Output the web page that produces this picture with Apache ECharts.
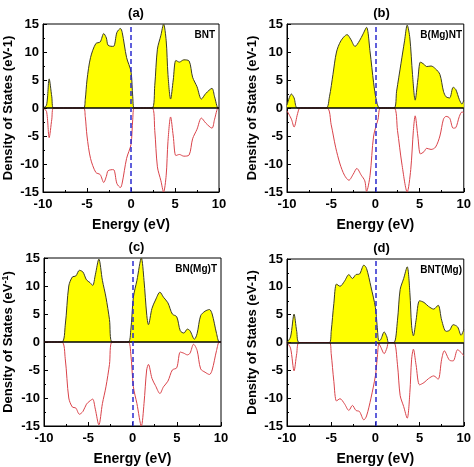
<!DOCTYPE html>
<html><head><meta charset="utf-8">
<script src="https://cdn.jsdelivr.net/npm/echarts@6/dist/echarts.min.js"></script>
<style>html,body{margin:0;padding:0;background:#fff}#c{width:474px;height:467px}</style>
</head><body><div id="c"></div>
<script>
const panelTitles = ['(a)','(b)','(c)','(d)'];
const panelLabels = ['BNT','B(Mg)NT','BN(Mg)T','BNT(Mg)'];
const xTicks = [-10,-5,0,5,10];
const yTicks = [-15,-10,-5,0,5,10,15];

const upA = [[-10,0],[-9.6,0.5],[-9.3,5.2],[-9.0,2],[-8.8,0],[-5.4,0],[-5.2,1.5],[-5,5],[-4.6,9],[-4,11.5],[-3.5,11.8],[-3.1,13.3],[-2.8,12.5],[-2.6,11.2],[-2,11],[-1.6,13.5],[-1.2,14.2],[-1,13.5],[-0.5,9],[0,6.5],[0.2,2],[0.4,0],[2.4,0],[2.7,4],[3,10.5],[3.4,13],[3.7,15],[4,12],[4.2,6],[4.5,1.6],[4.8,5],[5.1,8.5],[5.5,8.2],[6,8.6],[6.6,8.4],[7,5.5],[7.5,3.8],[8,1.6],[8.5,2.6],[9.2,3.5],[9.5,2],[9.9,0],[10,0]];
const dnA = [[-10,0],[-9.6,-0.6],[-9.3,-5.3],[-9.0,-2],[-8.8,0],[-5.4,0],[-5.2,-1.5],[-5,-5],[-4.6,-9],[-4,-11.5],[-3.5,-11.9],[-3.1,-13.3],[-2.8,-12.2],[-2.6,-11.2],[-2,-11],[-1.6,-13.5],[-1.2,-14.2],[-1,-13.4],[-0.5,-9],[0,-6.5],[0.2,-2],[0.4,0],[2.4,0],[2.7,-4],[3,-10.5],[3.4,-13],[3.7,-15],[4,-12],[4.2,-6],[4.5,-1.6],[4.8,-5],[5.1,-8.5],[5.5,-8.3],[6,-8.6],[6.6,-8.4],[7,-5.5],[7.5,-3.8],[8,-1.8],[8.5,-2.7],[9.2,-3.6],[9.5,-2],[9.9,0],[10,0]];

const upB = [[-10,0.5],[-9.5,2.5],[-9.2,1.8],[-8.8,0],[-5.6,0],[-5.2,2],[-4.8,6],[-4.4,10],[-3.9,12],[-3.2,13.1],[-2.8,12.3],[-2.3,11],[-1.8,12],[-1.4,13.2],[-1,14.4],[-0.6,10],[-0.2,4.5],[0.1,1.5],[0.5,0],[2.1,0],[2.4,3],[2.9,8],[3.3,12],[3.6,14.8],[3.9,12.5],[4.2,6],[4.5,1.4],[4.8,5],[5.1,8.2],[5.5,7.8],[5.8,7.4],[6.3,7.5],[6.8,7],[7.3,6],[7.7,3],[8,2],[8.4,1.8],[8.8,3.7],[9.1,3.3],[9.5,1.5],[9.8,0.7],[10,1.4]];
const dnB = [[-10,-0.5],[-9.5,-2],[-9.2,-3.4],[-8.8,-1],[-8.5,0],[-5.5,0],[-5,-3],[-4.5,-7],[-4,-10],[-3.5,-12],[-3,-12.9],[-2.5,-11.8],[-2.1,-10.8],[-1.6,-12],[-1.2,-13],[-1,-14.9],[-0.6,-12],[-0.2,-5],[0.3,-2],[0.6,0],[2.1,0],[2.5,-4],[3,-10],[3.6,-15],[4,-11],[4.3,-4],[4.5,-1.4],[4.8,-5],[5.1,-8.2],[5.5,-7.8],[5.8,-7.2],[6.3,-7.4],[6.8,-7],[7.3,-5],[7.7,-2],[8,-1.5],[8.4,-1.8],[8.8,-3.6],[9.1,-3.5],[9.5,-1.5],[9.8,-0.7],[10,-0.9]];

const upC = [[-10,0],[-8,0],[-7.6,3],[-7.2,10],[-6.8,11.6],[-6.4,11.8],[-6,12.8],[-5.6,12.5],[-5.2,11.1],[-4.8,10.6],[-4.5,10.1],[-4.2,12],[-3.8,14.8],[-3.4,11],[-3,8],[-2.6,4],[-2.3,0],[-0.5,0],[-0.2,2],[0.1,8],[0.5,11],[1,15],[1.3,11],[1.6,5],[1.8,3.1],[2.2,6],[2.6,7.5],[3.1,8.9],[3.5,8],[4,7],[4.5,5],[5,4.5],[5.4,2],[5.8,1.6],[6.2,2.3],[6.5,2],[7,0.5],[7.3,1.5],[7.7,4.7],[8.2,5.5],[8.7,5.8],[9,5],[9.5,1.5],[9.8,0],[10,0]];
const dnC = [[-10,0],[-8,0],[-7.6,-3],[-7.2,-10],[-6.8,-11.6],[-6.4,-11.8],[-6,-12.9],[-5.6,-12.4],[-5.2,-11.1],[-4.8,-10.5],[-4.5,-10.2],[-4.2,-12],[-3.8,-14.8],[-3.4,-11],[-3,-8],[-2.6,-4],[-2.3,0],[-0.5,0],[-0.2,-2],[0.1,-8],[0.5,-11],[1,-15],[1.3,-11],[1.6,-5],[1.8,-4],[2.2,-6.5],[2.6,-7.8],[3.1,-9.2],[3.5,-8],[4,-7],[4.5,-5],[5,-4.6],[5.4,-1.8],[5.8,-2],[6.2,-2.3],[6.5,-2],[6.9,-0.4],[7.3,-1.5],[7.7,-4.8],[8.2,-5.4],[8.7,-5.8],[9,-5],[9.5,-1.5],[9.8,0],[10,0]];

const upD = [[-10,0],[-9.6,1],[-9.2,5.1],[-8.9,2],[-8.6,0],[-5.2,0],[-5,2],[-4.7,7],[-4.4,10.5],[-4,10.1],[-3.5,11],[-3,12.2],[-2.6,11.5],[-2.2,12.2],[-1.8,12.3],[-1.3,13.9],[-1,13.3],[-0.5,10],[0,6.3],[0.2,3],[0.4,0.3],[0.6,0.5],[1,1.9],[1.3,1],[1.5,0],[2.1,0],[2.5,4],[2.8,9.5],[3.2,11.5],[3.6,13.6],[3.9,9],[4.1,3],[4.3,1.2],[4.6,4],[5,7.5],[5.5,7.2],[6,6.5],[6.6,6],[7.1,6.7],[7.5,4],[8,2],[8.4,2.2],[8.8,3.2],[9.3,2.8],[9.7,1.3],[10,2.3]];
const dnD = [[-10,0],[-9.6,-1],[-9.2,-5.1],[-8.9,-2],[-8.6,0],[-5.2,0],[-5,-2],[-4.7,-7],[-4.4,-10.5],[-4,-10.1],[-3.5,-11],[-3,-12.2],[-2.6,-11.3],[-2.2,-12.2],[-1.8,-12.4],[-1.3,-13.9],[-1,-13.2],[-0.5,-10],[0,-6],[0.2,-3],[0.4,-0.2],[0.6,-0.8],[1,-2],[1.3,-1],[1.5,0],[2.1,0],[2.5,-4],[2.8,-9.5],[3.2,-11.5],[3.6,-13.6],[3.9,-9],[4.1,-3],[4.3,-1.2],[4.6,-4],[5,-7.6],[5.5,-7.2],[6,-6.5],[6.6,-6],[7.1,-6.6],[7.5,-3],[7.8,-1.5],[8.4,-3.2],[8.8,-3.3],[9.3,-1.3],[9.7,-1.8],[10,-2.4]];

const ups = [upA, upB, upC, upD];
const dns = [dnA, dnB, dnC, dnD];
const grids = [
  {left:43, top:24, width:176, height:168},
  {left:287, top:24, width:179, height:168},
  {left:42, top:258, width:179, height:170},
  {left:287, top:259, width:179, height:169}
];
const F = '"Liberation Sans", Arial, sans-serif';
const grid=[], xAxis=[], yAxis=[], series=[], title=[], graphic=[];
grids.forEach((g,i)=>{
  grid.push(Object.assign({show:true, borderColor:'#000', borderWidth:1, backgroundColor:'transparent'}, g));
  xAxis.push({type:'value', gridIndex:i, min:-10, max:10, interval:5,
    name:'Energy (eV)', nameLocation:'middle', nameGap:26,
    nameTextStyle:{fontFamily:F, fontWeight:'bold', fontSize:14, color:'#000'},
    axisLine:{show:true, onZero:false, lineStyle:{color:'#000'}},
    axisTick:{inside:true, length:4, lineStyle:{color:'#000'}},
    minorTick:{show:true, splitNumber:2, length:2, lineStyle:{color:'#000'}},
    axisLabel:{fontFamily:F, fontWeight:'bold', fontSize:13, color:'#000', margin:6},
    splitLine:{show:false}});
  yAxis.push({type:'value', gridIndex:i, min:-15, max:15, interval:5,
    name: i==2 ? 'Density of States (eV{s|-1})' : 'Density of States (eV-1)',
    nameLocation:'middle', nameGap:28, nameRotate:90,
    nameTextStyle:{fontFamily:F, fontWeight:'bold', fontSize:13, color:'#000',
      rich:{s:{fontFamily:F, fontWeight:'bold', fontSize:9, color:'#000', verticalAlign:'top', padding:[0,0,6,0]}}},
    axisLine:{show:true, onZero:false, lineStyle:{color:'#000'}},
    axisTick:{inside:true, length:4, lineStyle:{color:'#000'}},
    minorTick:{show:true, splitNumber:2, length:2, lineStyle:{color:'#000'}},
    axisLabel:{fontFamily:F, fontWeight:'bold', fontSize:13, color:'#000', margin:4},
    splitLine:{show:false}});
  series.push({type:'line', xAxisIndex:i, yAxisIndex:i, data:ups[i], smooth:0.3, symbol:'none',
    lineStyle:{color:'#3a3a2a', width:1}, areaStyle:{color:'#ffff00', opacity:1, origin:0},
    markLine:{silent:true, symbol:'none', label:{show:false},
      data:[{yAxis:0, lineStyle:{color:'#000', width:1.5, type:'solid'}},
            {xAxis:0, lineStyle:{color:'#2b2bd0', width:1.5, type:[5,3]}}]}});
  series.push({type:'line', xAxisIndex:i, yAxisIndex:i, data:dns[i], smooth:0.3, symbol:'none',
    lineStyle:{color:'#d9434a', width:1}});
  title.push({text:panelTitles[i], left:g.left+g.width/2, top:g.top-22, textAlign:'center',
    textStyle:{fontFamily:F, fontWeight:'bold', fontSize:13, color:'#000'}});
  graphic.push({type:'text', right:474-(g.left+g.width)+4, top:g.top+6,
    style:{text:panelLabels[i], font:'bold 10px '+F, fill:'#000'}});
});
const chart = echarts.init(document.getElementById('c'));
chart.setOption({animation:false, grid, xAxis, yAxis, series, title, graphic});
</script></body></html>
